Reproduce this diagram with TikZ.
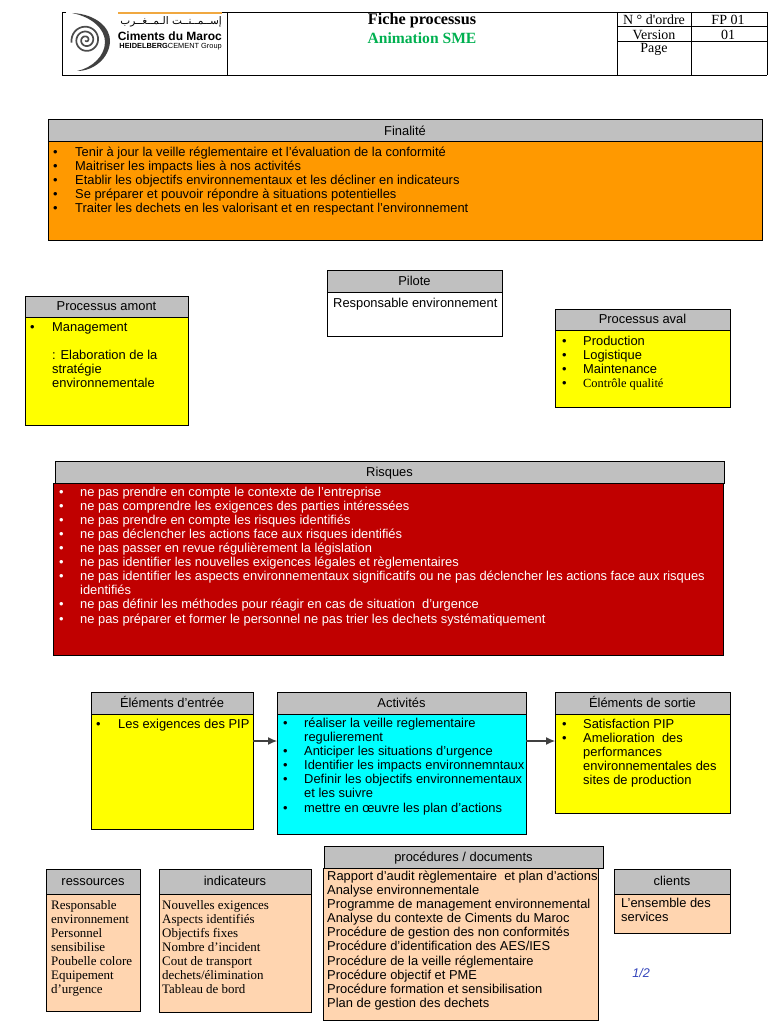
\documentclass[tikz,border=0pt]{standalone}
\usepackage{fontspec}
\setmainfont{Liberation Sans}
\newfontfamily\serifx{Liberation Serif}
\newfontfamily\arabicfont[Script=Arabic]{DejaVu Sans}
\TeXXeTstate=1
\usetikzlibrary{arrows.meta}
\definecolor{hdgray}{HTML}{C0C0C0}
\definecolor{orangebx}{HTML}{FF9900}
\definecolor{yellowbx}{HTML}{FFFF00}
\definecolor{redbx}{HTML}{C00000}
\definecolor{cyanbx}{HTML}{00FFFF}
\definecolor{peachbx}{HTML}{FFD5B0}
\definecolor{greenbx}{HTML}{00B050}
\definecolor{logoor}{HTML}{F0A840}
\definecolor{pageblue}{HTML}{3344BB}
\newcommand\bu[1][21pt]{\leavevmode\llap{\makebox[#1][l]{•}}\ignorespaces}
\tikzset{
  sans/.style={font=\fontsize{12.9}{14.05}\selectfont},
  serf/.style={font=\fontsize{12.95}{14}\selectfont\serifx},
  frame/.style={draw=black,line width=1pt,inner sep=0pt,anchor=north west,outer sep=0pt},
  hd/.style={frame,fill=hdgray,sans,text height=10.6pt,text depth=2pt},
  list/.style={sans,anchor=north west,inner sep=0pt,align=left},
  lists/.style={serf,anchor=north west,inner sep=0pt,align=left},
  thin cell/.style={draw=black,line width=.8pt},
  cellt/.style={font=\fontsize{14}{15}\selectfont\serifx,inner sep=0pt},
  flow/.style={draw=black!75,line width=1.1pt,-{Latex[length=9pt,width=8pt]}}
}
\begin{document}
\begin{tikzpicture}[x=1pt,y=-1pt]
\useasboundingbox (0,0) rectangle (768,1024);
% header
\draw[thin cell] (66,12) -- (62,12) -- (62,75) -- (767,75) (222,12) -- (767,12);
\draw[thin cell] (227,12) -- (227,75) (617,12) -- (617,75) (691,12) -- (691,75) (767,12) -- (767,75);
\draw[thin cell] (617,26) -- (767,26) (617,41) -- (767,41);
\draw[logoor,line width=1.2pt] (118,13) -- (222,13);
\fill[black!75] (72,13) .. controls (96,14) and (111,28) .. (110,42) .. controls (109,58) and (94,71) .. (77,71) .. controls (92,68) and (105,56) .. (105,42) .. controls (105,29) and (92,17) .. (72,13) -- cycle;
\draw[black!70,line width=1.7pt,smooth] plot[domain=100:1150,samples=90] ({86+(16-\x*0.0135)*cos(\x+70)},{40+(16-\x*0.0135)*sin(\x+70)});
\node[inner sep=0pt,anchor=east] (logoar) at (222,22) {\fontsize{10.5}{12}\selectfont\arabicfont\beginR إســمــنــت الـمــغــرب\endR};
\node[inner sep=0pt,anchor=east] (logoa) at (222,36) {\fontsize{12}{13}\selectfont\bfseries Ciments du Maroc};
\node[inner sep=0pt,anchor=east] (logob) at (222,47) {\fontsize{7.4}{9}\selectfont\textbf{HEIDELBERG}CEMENT Group};
\node[inner sep=0pt,font=\fontsize{16.2}{18}\selectfont\serifx\bfseries] (t1) at (422,21) {Fiche processus};
\node[inner sep=0pt,font=\fontsize{15.6}{18}\selectfont\serifx\bfseries,text=greenbx] (t2) at (422,38) {Animation SME};
\node[cellt] (c1) at (654,20) {N ° d'ordre};
\node[cellt] (c2) at (654,35) {Version};
\node[cellt] (c3) at (654,49) {Page};
\node[cellt] (c4) at (728,20) {FP 01};
\node[cellt] (c5) at (728,35) {01};

% Finalité
\node[frame,fill=orangebx,minimum width=714pt,minimum height=98pt] (finb) at (48,142) {};
\node[hd,minimum width=714pt,minimum height=22pt] (finh) at (48,120) {Finalité};
\node[list] (fint) at (75,147) {\bu[22pt] Tenir à jour la veille réglementaire et l’évaluation de la conformité\\
\bu[22pt] Maitriser les impacts lies à nos activités\\
\bu[22pt] Etablir les objectifs environnementaux et les décliner en indicateurs\\
\bu[22pt] Se préparer et pouvoir répondre à situations potentielles\\
\bu[22pt] Traiter les dechets en les valorisant et en respectant l’environnement};

% Pilote
\node[frame,fill=white,minimum width=175pt,minimum height=44pt] (pilb) at (327,292) {};
\node[hd,minimum width=175pt,minimum height=22pt] (pilh) at (327,270) {Pilote};
\node[list] (pilt) at (333,298) {Responsable environnement};

% Amont
\node[frame,fill=yellowbx,minimum width=163pt,minimum height=108pt] (amob) at (25,317) {};
\node[hd,minimum width=163pt,minimum height=21pt] (amoh) at (25,296) {Processus amont};
\node[list] (amot) at (52,322) {\bu[22pt] Management\\[14.05pt]
: Elaboration de la\\ stratégie\\ environnementale};

% Aval
\node[frame,fill=yellowbx,minimum width=175pt,minimum height=77pt] (avab) at (555,330) {};
\node[hd,minimum width=175pt,minimum height=21pt] (avah) at (555,309) {Processus aval};
\node[list] (avat) at (583,336) {\bu Production\\ \bu Logistique\\ \bu Maintenance\\ \bu {\fontsize{12.4}{14}\selectfont\serifx Contrôle qualité}};

% Risques
\node[frame,fill=redbx,minimum width=670pt,minimum height=172pt] (risb) at (53,483) {};
\node[hd,minimum width=669pt,minimum height=22pt] (rish) at (55,461) {Risques};
\node[list,text=white] (rist) at (80,487) {\bu ne pas prendre en compte le contexte de l’entreprise\\
\bu ne pas comprendre les exigences des parties intéressées\\
\bu ne pas prendre en compte les risques identifiés\\
\bu ne pas déclencher les actions face aux risques identifiés\\
\bu ne pas passer en revue régulièrement la législation\\
\bu ne pas identifier les nouvelles exigences légales et règlementaires\\
\bu ne pas identifier les aspects environnementaux significatifs ou ne pas déclencher les actions face aux risques\\ identifiés\\
\bu ne pas définir les méthodes pour réagir en cas de situation \ d’urgence\\
\bu ne pas préparer et former le personnel ne pas trier les dechets systématiquement};

% Entrée
\node[frame,fill=yellowbx,minimum width=162pt,minimum height=115pt] (entb) at (91,714) {};
\node[hd,minimum width=162pt,minimum height=22pt] (enth) at (91,692) {Éléments d'entrée};
\node[list] (entt) at (118,719) {\bu[22pt] Les exigences des PIP};

% Activités
\node[frame,fill=cyanbx,minimum width=249pt,minimum height=120pt] (actb) at (277,714) {};
\node[hd,minimum width=249pt,minimum height=22pt] (acth) at (277,692) {Activités};
\node[list] (actt) at (304,718) {\bu réaliser la veille reglementaire\\ regulierement\\
\bu Anticiper les situations d’urgence\\
\bu Identifier les impacts environnemntaux\\
\bu Definir les objectifs environnementaux\\ et les suivre\\
\bu mettre en œuvre les plan d’actions};

% Sortie
\node[frame,fill=yellowbx,minimum width=175pt,minimum height=99pt] (sorb) at (555,714) {};
\node[hd,minimum width=175pt,minimum height=22pt] (sorh) at (555,692) {Éléments de sortie};
\node[list] (sort) at (583,719) {\bu Satisfaction PIP\\ \bu Amelioration \ des\\ performances\\ environnementales des\\ sites de production};

\coordinate (flowy) at (0,741);
\draw[flow] (entb.east |- flowy) -- (actb.west |- flowy);
\draw[flow] (actb.east |- flowy) -- (sorb.west |- flowy);

% Ressources
\node[frame,fill=peachbx,minimum width=94pt,minimum height=117pt] (resb) at (46,894) {};
\node[hd,minimum width=94pt,minimum height=25pt] (resh) at (46,869) {ressources};
\node[lists] (rest) at (51,900) {Responsable\\ environnement\\ Personnel\\ sensibilise\\ Poubelle colore\\ Equipement\\ d’urgence};

% Indicateurs
\node[frame,fill=peachbx,minimum width=152pt,minimum height=118pt] (indb) at (159,894) {};
\node[hd,minimum width=152pt,minimum height=25pt] (indh) at (159,869) {indicateurs};
\node[lists] (indt) at (162,900) {Nouvelles exigences\\ Aspects identifiés\\ Objectifs fixes\\ Nombre d’incident\\ Cout de transport\\ dechets/élimination\\ Tableau de bord};

% Procédures
\node[frame,fill=peachbx,minimum width=275pt,minimum height=152pt] (prob) at (323,868) {};
\node[hd,minimum width=279pt,minimum height=22pt] (proh) at (324,846) {procédures / documents};
\node[list] (prot) at (327,871) {Rapport d’audit règlementaire \ et plan d’actions\\ Analyse environnementale\\ Programme de management environnemental\\ Analyse du contexte de Ciments du Maroc\\ Procédure de gestion des non conformités\\ Procédure d’identification des AES/IES\\ Procédure de la veille réglementaire\\ Procédure objectif et PME\\ Procédure formation et sensibilisation\\ Plan de gestion des dechets};

% Clients
\node[frame,fill=peachbx,minimum width=116pt,minimum height=39pt] (clib) at (614,894) {};
\node[hd,minimum width=116pt,minimum height=25pt] (clih) at (614,869) {clients};
\node[list] (clit) at (621,898) {L’ensemble des\\ services};

\node[inner sep=0pt,font=\fontsize{12.6}{14}\selectfont\itshape,text=pageblue] (pg) at (641,973) {1/2};
\end{tikzpicture}
\end{document}
